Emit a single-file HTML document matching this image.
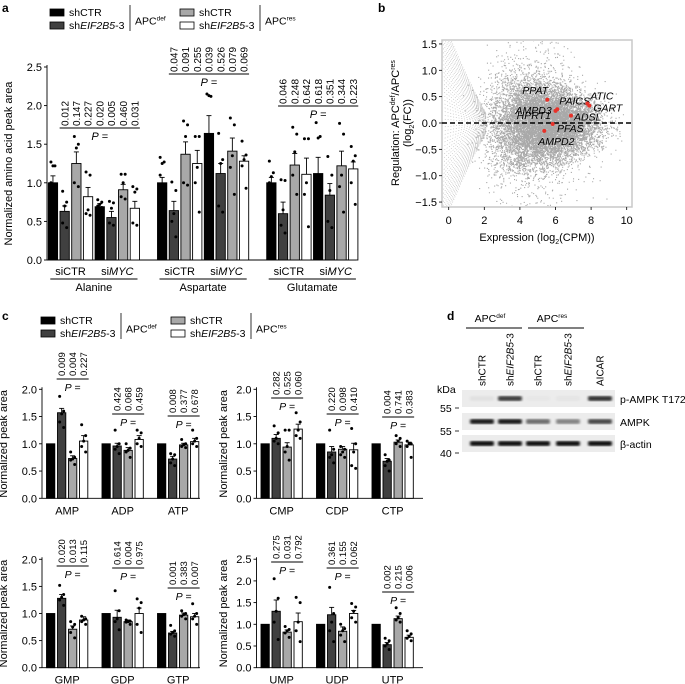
<!DOCTYPE html>
<html><head><meta charset="utf-8"><style>
body{margin:0;background:#fff;}
svg{display:block;font-family:"Liberation Sans",sans-serif;}
</style></head><body>
<svg id="fig" width="685" height="684" viewBox="0 0 685 684"></svg>
<script>
// ===== Panel a data =====
const aminoCategories = ["Alanine","Aspartate","Glutamate"];
const subGroups = ["siCTR","siMYC"];
const alanineValues = [1.0,0.63,1.25,0.82,0.69,0.55,0.91,0.67];
const aspartateValues = [1.0,0.64,1.37,1.25,1.64,1.12,1.41,1.28];
const glutamateValues = [1.0,0.60,1.23,1.11,1.12,0.84,1.22,1.18];
const alanineErr = [0.09,0.07,0.15,0.12,0.04,0.08,0.07,0.09];
const aspartateErr = [0.07,0.12,0.16,0.17,0.23,0.13,0.17,0.07];
const glutamateErr = [0.07,0.15,0.15,0.21,0.21,0.15,0.19,0.09];
const alanineDots = [[1.27,1.22,1.22,1.0,0.9],[0.89,0.75,0.7,0.48,0.42],[1.6,1.5,1.45,1.0,0.95],[1.14,1.1,0.65,0.6,0.58],[0.78,0.75,0.72,0.7,0.68],[0.76,0.74,0.67,0.48,0.45],[1.11,1.11,1.0,0.82,0.79],[0.95,0.92,0.88,0.48,0.45]];
const aspartateDots = [[1.33,1.27,1.25,1.1,0.9],[1.01,0.9,0.6,0.5,0.3],[1.8,1.75,1.6,1.0,0.97],[1.6,1.6,1.2,1.0,0.62],[2.15,2.12,2.13,1.3,1.0],[1.64,1.3,1.25,0.7,0.62],[1.84,1.75,1.35,1.2,0.85],[1.54,1.36,1.3,1.22,0.93]];
const glutamateDots = [[1.28,1.13,1.08,1.0,0.95],[1.04,1.03,0.65,0.45,0.35],[1.72,1.63,1.4,1.1,0.85],[1.57,1.57,1.0,0.85,0.43],[1.78,1.6,1.58,1.0,0.9],[1.34,1.1,0.9,0.5,0.42],[1.77,1.63,1.1,0.95,0.62],[1.47,1.35,1.28,1.0,0.72]];
const alanineP = ["0.012","0.147","0.227","0.020","0.005","0.460","0.031"];
const aspartateP = ["0.047","0.091","0.255","0.039","0.526","0.079","0.069"];
const glutamateP = ["0.046","0.248","0.642","0.618","0.351","0.344","0.223"];
const aTicks = [0,0.5,1.0,1.5,2.0,2.5];
const aTickLabels = ["0.0","0.5","1.0","1.5","2.0","2.5"];

// ===== Panel b data =====
const geneNames = ["PPAT","PAICS","AMPD3","ATIC","GART","ADSL","HPRT1","AMPD2"];
const geneExpr = [5.54,6.1,6.0,7.79,7.9,6.87,5.84,5.37];
const geneReg = [0.44,0.26,0.23,0.37,0.33,0.14,-0.02,-0.15];
const bXTicks = [0,2,4,6,8,10];
const bYTicks = [-1.5,-1.0,-0.5,0.0,0.5,1.0,1.5];
const bYTickLabels = ["−1.5","−1.0","−0.5","0.0","0.5","1.0","1.5"];

// ===== Panel c data =====
const nucCatsTL = ["AMP","ADP","ATP"];
const nucCatsTR = ["CMP","CDP","CTP"];
const nucCatsBL = ["GMP","GDP","GTP"];
const nucCatsBR = ["UMP","UDP","UTP"];
const valsTL = [[1.0,1.57,0.73,1.05],[1.0,0.96,0.88,1.08],[1.0,0.72,0.98,1.04]];
const valsTR = [[1.0,1.10,0.94,1.27],[1.0,0.85,0.90,0.89],[1.0,0.68,1.03,0.98]];
const valsBL = [[1.0,1.28,0.71,0.88],[1.0,0.93,0.85,1.0],[1.0,0.64,0.97,0.94]];
const valsBR = [[1.0,1.30,0.82,1.06],[1.0,1.22,0.84,1.25],[1.0,0.53,1.13,0.70]];
const errTL = [[0,0.08,0.05,0.1],[0,0.05,0.05,0.07],[0,0.05,0.03,0.06]];
const errTR = [[0,0.07,0.08,0.09],[0,0.1,0.05,0.12],[0,0.05,0.04,0.05]];
const errBL = [[0,0.07,0.06,0.06],[0,0.13,0.03,0.1],[0,0.03,0.04,0.06]];
const errBR = [[0,0.26,0.05,0.2],[0,0.17,0.1,0.07],[0,0.05,0.06,0.05]];
const dotsTL = [[[1.87,1.6,1.55,1.4,1.3],[0.85,0.75,0.72,0.7,0.62],[1.35,1.15,1.05,0.95,0.85]],[[1.25,1.0,0.95,0.9,0.82],[1.0,0.92,0.88,0.85,0.75],[1.25,1.2,1.1,1.0,0.95]],[[0.82,0.8,0.72,0.65,0.6],[1.08,1.0,0.98,0.95,0.93],[1.25,1.1,1.05,1.0,0.95]]];
const dotsTR = [[[1.33,1.2,1.1,1.05,1.0],[1.25,1.25,0.95,0.85,0.7],[1.57,1.4,1.25,1.15,1.1]],[[1.25,0.9,0.8,0.75,0.65],[0.95,0.9,0.85,0.8,0.75],[1.28,1.0,0.85,0.6,0.55]],[[0.8,0.7,0.68,0.6,0.5],[1.15,1.1,1.05,1.0,0.95],[1.05,1.0,1.0,0.95,0.75]]];
const dotsBL = [[[1.52,1.35,1.3,1.25,1.15],[0.85,0.8,0.75,0.65,0.55],[0.95,0.9,0.88,0.85,0.8]],[[1.42,1.05,0.9,0.85,0.7],[0.88,0.86,0.85,0.84,0.8],[1.27,1.2,1.1,0.8,0.65]],[[0.78,0.68,0.65,0.62,0.58],[1.05,1.0,0.98,0.95,0.9],[1.18,1.0,0.95,0.9,0.8]]];
const dotsBR = [[[2.05,1.6,1.3,1.05,0.65],[0.95,0.88,0.85,0.8,0.7],[1.62,1.5,1.05,0.85,0.6]],[[1.85,1.25,1.05,0.85,0.6],[1.0,0.9,0.85,0.75,0.6],[1.48,1.4,1.3,1.15,1.05]],[[0.68,0.62,0.55,0.5,0.42],[1.38,1.25,1.15,1.1,1.05],[0.85,0.78,0.72,0.68,0.62]]];
const pTL = [["0.009","0.004","0.227"],["0.424","0.068","0.459"],["0.008","0.377","0.678"]];
const pTR = [["0.282","0.525","0.060"],["0.220","0.098","0.410"],["0.004","0.741","0.383"]];
const pBL = [["0.020","0.013","0.115"],["0.614","0.004","0.975"],["0.001","0.383","0.007"]];
const pBR = [["0.275","0.031","0.792"],["0.361","0.155","0.062"],["0.002","0.215","0.006"]];
const cTicks2 = [0,0.5,1.0,1.5,2.0];
const cTicks25 = [0,0.5,1.0,1.5,2.0,2.5];

// ===== Panel d data =====
const laneNames = ["shCTR","shEIF2B5-3","shCTR","shEIF2B5-3","AICAR"];
const pampkIntensity = [0.05,0.75,0.02,0.03,0.8];
const ampkIntensity = [0.9,0.9,0.55,0.45,0.7];
const actinIntensity = [0.95,0.95,0.95,0.95,0.95];

const NS="http://www.w3.org/2000/svg";
const svg=document.getElementById('fig');
const FILLS=["#000","#404040","#a8a8a8","#fff"];
function el(tag,attrs,parent,txt){const e=document.createElementNS(NS,tag);for(const k in attrs)e.setAttribute(k,attrs[k]);if(txt!==undefined)e.textContent=txt;(parent||svg).appendChild(e);return e;}
function grp(name){const g=el('g',{});return g;}

[["a",2,12],["b",378,12],["c",2,320],["d",447,320]].forEach(l=>{const t=el('text',{x:l[1],y:l[2],'font-size':12,'font-weight':'bold'},svg,l[0]);});

function legend(x0,y0,rowH,name){
  const g=grp(name);
  const items=[[0,0,"shCTR"],[1,1,"shEIF2B5-3"],[2,0,"shCTR"],[3,1,"shEIF2B5-3"]];
  items.forEach((it,i)=>{
    const col=i<2?0:1; const row=i%2;
    const x=x0+col*130, y=y0+row*rowH;
    const r=el('rect',{x:x,y:y-5,width:14,height:7,fill:FILLS[i],stroke:'#000','stroke-width':0.8},g);
    
    const t=el('text',{x:x+19,y:y+2,'font-size':10.5},g);
    
    if(it[2]==="shCTR") t.textContent="shCTR"; else {t.textContent="sh";el('tspan',{'font-style':'italic'},t,"EIF2B5");el('tspan',{},t,"-3");}
  });
  [[x0+80,"def"],[x0+210,"res"]].forEach(a=>{
    el('line',{x1:a[0],y1:y0-9,x2:a[0],y2:y0+rowH+4,stroke:'#000','stroke-width':0.8},g);
    const t=el('text',{x:a[0]+5,y:y0+rowH/2+4,'font-size':10.5},g,"APC");
    
    el('tspan',{'font-size':6.5,dy:-4},t,a[1]);
  });
}

function rotText(parent,cx,bottom,str,size){
  const t=el('text',{x:0,y:0,'font-size':size,transform:`translate(${cx+size*0.36},${bottom}) rotate(-90)`},parent,str);
  
}
function pAnno(parent,xs,bottom,vals,lineY,size){
  vals.forEach((v,i)=>rotText(parent,xs[i],bottom,v,size));
  const l=el('line',{x1:xs[0]-5,y1:lineY,x2:xs[xs.length-1]+5,y2:lineY,stroke:'#000','stroke-width':0.9},parent);
  
  const cx=(xs[0]+xs[xs.length-1])/2;
  const t=el('text',{x:cx,y:lineY+12,'font-size':size+1,'text-anchor':'middle'},parent);
  
  el('tspan',{'font-style':'italic'},t,"P");el('tspan',{},t," =");
}

function yAxis(parent,ax,y0,pxPer,ticks,labels,top,title,titleX,fs){
  const yy=v=>y0-v*pxPer;
  const l=el('line',{x1:ax,y1:yy(ticks[ticks.length-1])-2,x2:ax,y2:y0,stroke:'#000','stroke-width':0.9},parent);
  
  ticks.forEach((v,i)=>{el('line',{x1:ax-3,y1:yy(v),x2:ax,y2:yy(v),stroke:'#000','stroke-width':0.9},parent);
    const t=el('text',{x:ax-5,y:yy(v)+4,'font-size':fs,'text-anchor':'end'},parent,labels[i]);
    });
  const cy=(y0+yy(ticks[ticks.length-1]))/2;
  const tt=el('text',{x:0,y:0,'font-size':fs,'text-anchor':'middle',transform:`translate(${titleX},${cy}) rotate(-90)`},parent,title);
  
}

function bar(parent,x,w,y0,pxPer,v,err,fill,dots){
  const yy=u=>y0-u*pxPer;
  if(err>0){el('line',{x1:x+w/2,y1:yy(v+err),x2:x+w/2,y2:yy(v),stroke:'#000','stroke-width':0.9},parent);
    el('line',{x1:x+w/2-2.5,y1:yy(v+err),x2:x+w/2+2.5,y2:yy(v+err),stroke:'#000','stroke-width':0.9},parent);}
  const r=el('rect',{x:x,y:yy(v),width:w,height:v*pxPer,fill:fill,stroke:'#000','stroke-width':0.9},parent);
  
  if(dots)dots.forEach((d,k)=>{const c=el('circle',{cx:x+w/2+[-2,2,0,-2,2][k%5],cy:yy(d),r:1.5,fill:'#000'},parent);
    });
}

// ===== Panel a =====
(function(){
  legend(50,14,13,'legend-a');
  const g=grp('chart-a');
  const y0=260, px=77.2, ax=47;
  yAxis(g,ax,y0,px,aTicks,aTickLabels,67,"Normalized amino acid peak area",12,11);
  el('line',{x1:ax,y1:y0,x2:356,y2:y0,stroke:'#000','stroke-width':0.9},g);
  const vals=[alanineValues,aspartateValues,glutamateValues], errs=[alanineErr,aspartateErr,glutamateErr], dots=[alanineDots,aspartateDots,glutamateDots], ps=[alanineP,aspartateP,glutamateP];
  const pBottom=[126,72,104], pLine=[128,74,106];
  const gx0=48.3, gOff=109.2, pitch=11.7, w=9.3;
  aminoCategories.forEach((cat,gi)=>{
    const bx=i=>gx0+gi*gOff+i*pitch;
    vals[gi].forEach((v,i)=>bar(g,bx(i),w,y0,px,v,errs[gi][i],FILLS[i%4],dots[gi][i]));
    subGroups.forEach((s,si)=>{
      const cx=bx(si*4+1.5)+w/2;
      const t=el('text',{x:cx,y:275,'font-size':11,'text-anchor':'middle'},g);
      
      if(s==="siMYC"){t.textContent="si";el('tspan',{'font-style':'italic'},t,"MYC");}else t.textContent=s;
    });
    el('line',{x1:bx(0)+2,y1:279,x2:bx(7)+w-2,y2:279,stroke:'#000','stroke-width':0.9},g);
    const t=el('text',{x:(bx(0)+bx(7)+w)/2,y:291,'font-size':11,'text-anchor':'middle'},g,cat);
    
    const xs=[1,2,3,4,5,6,7].map(i=>bx(i)+w/2);
    pAnno(g,xs,pBottom[gi],ps[gi],pLine[gi],10);
  });
})();

// ===== Panel b =====
(function(){
  const g=grp('chart-b');
  const bx0=442,bx1=632,by0=40,by1=207;
  const X=v=>448.7+v*17.8, Y=v=>123-v*52.7;
  el('rect',{x:bx0,y:by0,width:bx1-bx0,height:by1-by0,fill:'#fff',stroke:'#c8c8c8','stroke-width':1.5},g);
  const clip=el('clipPath',{id:'bclip'},g);el('rect',{x:bx0+1,y:by0+1,width:bx1-bx0-2,height:by1-by0-2},clip);
  const inner=el('g',{'clip-path':'url(#bclip)'},g);
  // fan of low-expression genes
  const fan=el('g',{fill:'none',stroke:'#b8b8b8','stroke-width':0.6,'stroke-dasharray':'1 1.8'},inner);
  
  for(let k=1;k<=26;k++){const a=k*0.07;
    el('path',{d:`M${bx0},${Y(a*1.1)} Q${X(0.9)},${Y(a*0.5)} ${X(2.1)},${Y(a*0.1)}`},fan);
    el('path',{d:`M${bx0},${Y(-a*1.1)} Q${X(0.9)},${Y(-a*0.5)} ${X(2.1)},${Y(-a*0.1)}`},fan);}
  // background density texture (decorative cloud of all genes)
  let s=12345;const rnd=()=>{s=(s*1103515245+12345)%2147483648;return s/2147483648;};
  const cloud=el('g',{fill:'#a9a9a9'},inner);
  let pts="";
  for(let i=0;i<12000;i++){
    const ex=1.2+ (rnd()+rnd()+rnd())/3*8.4 + (rnd()-0.5)*1.5;
    const n=(rnd()+rnd()+rnd()+rnd()-2)*0.85;
    const spread=Math.max(0.25,1.05-Math.max(0,ex-2)*0.085);
    let ry=n*spread*(rnd()<0.1?2.4:1);
    if(ry>1.6||ry<-1.7)continue;
    const cx=X(ex), cy=Y(ry);
    pts+=`M${cx.toFixed(1)},${cy.toFixed(1)}h1.1v1.1h-1.1z`;
  }
  el('path',{d:pts},cloud);
  el('line',{x1:bx0,y1:Y(0),x2:bx1,y2:Y(0),stroke:'#000','stroke-width':1.6,'stroke-dasharray':'5 3'},g);
  const labOff={PPAT:[-25,-6],PAICS:[2,-5],AMPD3:[-40,3],ATIC:[3,-4],GART:[4,6],ADSL:[3,5],HPRT1:[-36,-5],AMPD2:[-6,14]};
  geneNames.forEach((n,i)=>{
    const c=el('circle',{cx:X(geneExpr[i]),cy:Y(geneReg[i]),r:2,fill:'#e8322a'},g);
    
    const o=labOff[n];
    const t=el('text',{x:X(geneExpr[i])+o[0],y:Y(geneReg[i])+o[1],'font-size':10.5,'font-style':'italic'},g,n);
    
  });
  const pf=el('text',{x:557,y:132,'font-size':10.5,'font-style':'italic'},g,"PFAS");
  bYTicks.forEach((v,i)=>{el('line',{x1:bx0-3,y1:Y(v),x2:bx0,y2:Y(v),stroke:'#000','stroke-width':0.8},g);
    const t=el('text',{x:bx0-5,y:Y(v)+4,'font-size':11,'text-anchor':'end'},g,bYTickLabels[i]);});
  bXTicks.forEach(v=>{el('line',{x1:X(v),y1:by1,x2:X(v),y2:by1+3,stroke:'#000','stroke-width':0.8},g);
    const t=el('text',{x:X(v),y:224,'font-size':11,'text-anchor':'middle'},g,String(v));});
  const xt=el('text',{x:537,y:241,'font-size':11,'text-anchor':'middle'},g,"Expression (log");
  el('tspan',{'font-size':7,dy:3},xt,"2");el('tspan',{dy:-3},xt,"(CPM))");
  const yt=el('text',{x:0,y:0,'font-size':11,'text-anchor':'middle',transform:'translate(399,123) rotate(-90)'},g,"Regulation: APC");
  
  el('tspan',{'font-size':7,dy:-4},yt,"def");el('tspan',{dy:4},yt,"/APC");el('tspan',{'font-size':7,dy:-4},yt,"res");
  const yt2=el('text',{x:0,y:0,'font-size':11,'text-anchor':'middle',transform:'translate(411,123) rotate(-90)'},g,"(log");
  el('tspan',{'font-size':7,dy:3},yt2,"2");el('tspan',{dy:-3},yt2,"(FC))");
})();

// ===== Panel c =====
legend(41,322,13,'legend-c');
function smallChart(name,ax,y0,px,ticks,cats,vals,errs,dots,ps,pBottoms,axEnd,titleX){
  const g=grp(name);
  const labels=ticks.map(v=>v.toFixed(1));
  yAxis(g,ax,y0,px,ticks,labels,0,"Normalized peak area",titleX,11);
  el('line',{x1:ax,y1:y0,x2:axEnd,y2:y0,stroke:'#000','stroke-width':0.9},g);
  const w=8.3,pitch=11,gOff=55.5,x0=ax+4.5;
  cats.forEach((c,gi)=>{
    const bx=i=>x0+gi*gOff+i*pitch;
    vals[gi].forEach((v,i)=>bar(g,bx(i),w,y0,px,v,errs[gi][i],FILLS[i],i>0?dots[gi][i-1]:null));
    const t=el('text',{x:bx(1.5)+w/2,y:y0+16,'font-size':11,'text-anchor':'middle'},g,c);
    
    const xs=[1,2,3].map(i=>bx(i)+w/2);
    pAnno(g,xs,pBottoms[gi],ps[gi],pBottoms[gi]+3,9.5);
  });
}
smallChart('chart-c-amp-adp-atp',42,498.3,54.5,cTicks2,nucCatsTL,valsTL,errTL,dotsTL,pTL,[376,411,413],200,7);
smallChart('chart-c-cmp-cdp-ctp',256.5,498.3,54.5,cTicks2,nucCatsTR,valsTR,errTR,dotsTR,pTR,[395,411,414],423,227);
smallChart('chart-c-gmp-gdp-gtp',42,667.7,54.2,cTicks2,nucCatsBL,valsBL,errBL,dotsBL,pBL,[563,565,585],200,7);
smallChart('chart-c-ump-udp-utp',256.5,667.7,43.4,cTicks25,nucCatsBR,valsBR,errBR,dotsBR,pBR,[559,565,589],423,227);

// ===== Panel d =====
(function(){
  const g=grp('western-blot-d');
  const defs=el('defs',{},g);const f=el('filter',{id:'blur'},defs);el('feGaussianBlur',{stdDeviation:1.2},f);
  const lanes=[482,510,538,568,600];
  [["def",466,522],["res",528,584]].forEach(h=>{
    const t=el('text',{x:(h[1]+h[2])/2-4,y:322,'font-size':10.5,'text-anchor':'middle'},g,"APC");
    
    el('tspan',{'font-size':6.5,dy:-4},t,h[0]);
    el('line',{x1:h[1],y1:328,x2:h[2],y2:328,stroke:'#000','stroke-width':0.9},g);
  });
  laneNames.forEach((n,i)=>{
    const t=el('text',{x:0,y:0,'font-size':10,transform:`translate(${lanes[i]+3.5},386) rotate(-90)`},g);
    
    if(n.startsWith("shEIF")){t.textContent="sh";el('tspan',{'font-style':'italic'},t,"EIF2B5");el('tspan',{},t,"-3");}else t.textContent=n;
  });
  const rows=[[390,407,pampkIntensity,"p-AMPK T172",399],[413,430,ampkIntensity,"AMPK",422],[435,452,actinIntensity,"β-actin",444]];
  rows.forEach((r,ri)=>{
    const bg=el('rect',{x:462,y:r[0],width:153,height:r[1]-r[0],fill:'#ececec'},g);
    
    r[2].forEach((v,i)=>{const b=el('rect',{x:lanes[i]-12,y:(r[0]+r[1])/2-2.5,width:24,height:5,rx:2,fill:'#000','fill-opacity':v,filter:'url(#blur)'},g);
      });
    const t=el('text',{x:620,y:r[4]+4,'font-size':10.5},g,r[3]);
  });
  [["kDa",389],["55",408],["55",431],["40",453]].forEach((k,i)=>{
    const t=el('text',{x:i==0?437:440,y:k[1]+4,'font-size':10.5},g,k[0]);
    if(i>0)el('line',{x1:455,y1:k[1],x2:459,y2:k[1],stroke:'#000','stroke-width':0.8},g);
  });
})();
</script>
</body></html>
